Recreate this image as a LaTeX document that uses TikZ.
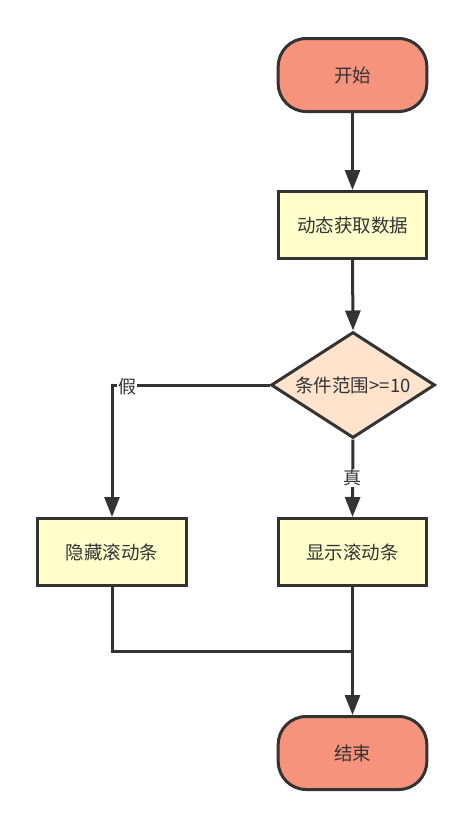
\documentclass[tikz,border=0pt]{standalone}
\usepackage{fontspec}
\setmainfont{Noto Sans CJK SC}
\usetikzlibrary{shapes.geometric,arrows.meta}
\definecolor{ln}{HTML}{333333}
\definecolor{term}{HTML}{F5937C}
\definecolor{proc}{HTML}{FFFFCC}
\definecolor{dec}{HTML}{FFE3CC}
\tikzset{
  base/.style={draw=ln, line width=3pt, text=ln, font=\fontsize{18.5}{22}\selectfont, inner sep=0pt},
  terminal/.style={base, fill=term, rounded corners=28pt, minimum width=148.6pt, minimum height=73pt},
  procbox/.style={base, fill=proc, minimum width=148.6pt, minimum height=67pt},
  decision/.style={base, fill=dec, diamond, minimum width=164pt, minimum height=106pt},
  conn/.style={draw=ln, line width=3pt, -{Triangle[length=20pt,width=15pt]}},
  plainconn/.style={draw=ln, line width=3pt},
  lab/.style={fill=white, text=ln, font=\fontsize{18}{22}\selectfont, inner sep=1pt}
}
\begin{document}
\begin{tikzpicture}[x=1pt,y=-1pt]
\useasboundingbox (0,0) rectangle (473,828);
\node[terminal] (start) at (352.5,75) {开始};
\node[procbox] (fetch) at (352.5,225) {动态获取数据};
\node[decision, label={[text=ln, font=\fontsize{18.5}{22}\selectfont]center:条件范围>=10}] (cond) at (353,385) {};
\node[procbox] (hide) at (112,552) {隐藏滚动条};
\node[procbox] (show) at (352.5,552) {显示滚动条};
\node[terminal] (end) at (352.5,753) {结束};
\coordinate (merge) at (352.5,651);
\draw[conn] (start.south) -- (fetch.north);
\draw[conn] (fetch.south) -- (cond.north);
\draw[conn] (cond.west) -| (hide.north);
\node[lab] (lfalse) at (127,387) {假};
\draw[conn] (cond.south) -- (show.north);
\node[lab] (ltrue) at (352.5,478) {真};
\draw[plainconn] (hide.south) |- (merge);
\draw[conn] (show.south) -- (end.north);
\end{tikzpicture}
\end{document}
